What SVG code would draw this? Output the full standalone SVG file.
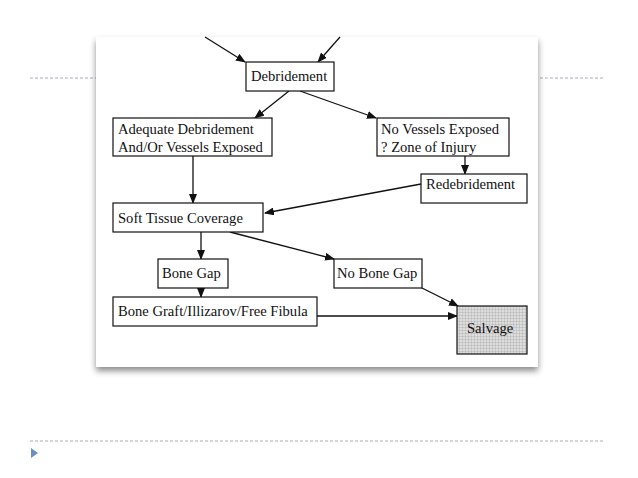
<svg xmlns="http://www.w3.org/2000/svg" width="638" height="478" viewBox="0 0 638 478">
<style>
.b{fill:#fff;stroke:#111;stroke-width:1.2}
.t{font-family:"Liberation Serif",serif;font-size:14.6px;fill:#111}
.c line{stroke:#111;stroke-width:1.3;marker-end:url(#a)}
.d{stroke:#aab;stroke-width:1;stroke-dasharray:3,2}
</style>
<defs>
<marker id="a" markerWidth="10" markerHeight="8" refX="9" refY="4" orient="auto" markerUnits="userSpaceOnUse"><path d="M0,0L10,4L0,8z" fill="#111"/></marker>
<pattern id="p" width="3" height="3" patternUnits="userSpaceOnUse"><rect width="3" height="3" fill="#ddd"/><path d="M0,0H3M0,0V3" stroke="#999" stroke-width="0.6"/></pattern>
<filter id="s" x="-5%" y="-5%" width="110%" height="115%"><feDropShadow dx="0" dy="4" stdDeviation="3" flood-color="#000" flood-opacity="0.45"/></filter>
</defs>
<rect width="638" height="478" fill="#fff"/>
<line class="d" x1="30" y1="78" x2="605" y2="78"/>
<line class="d" x1="30" y1="441" x2="605" y2="441"/>
<path d="M31,448L38,453L31,458z" fill="#6b8fc7"/>
<rect x="96" y="37" width="442" height="330" fill="#fff" filter="url(#s)"/>
<g class="c">
<line x1="205" y1="37" x2="245" y2="62"/>
<line x1="340" y1="37" x2="318" y2="62"/>
<line x1="289" y1="91" x2="255" y2="118"/>
<line x1="300" y1="91" x2="376" y2="118"/>
<line x1="193" y1="156" x2="193" y2="203"/>
<line x1="465" y1="156" x2="465" y2="174"/>
<line x1="421" y1="184" x2="265" y2="213"/>
<line x1="201" y1="232" x2="201" y2="259"/>
<line x1="230" y1="232" x2="334" y2="259"/>
<line x1="201" y1="288" x2="201" y2="297"/>
<line x1="422" y1="288" x2="458" y2="306"/>
<line x1="317" y1="316" x2="457" y2="316"/>
</g>
<g id="debridement"><rect class="b" x="246" y="62" width="88" height="29"/><text class="t" x="251" y="81">Debridement</text></g>
<g id="adequate"><rect class="b" x="113" y="118" width="159" height="38"/><text class="t" x="118" y="134">Adequate Debridement</text><text class="t" x="118" y="152">And/Or Vessels Exposed</text></g>
<g id="novessels"><rect class="b" x="377" y="118" width="132" height="38"/><text class="t" x="381" y="134">No Vessels Exposed</text><text class="t" x="381" y="152">? Zone of Injury</text></g>
<g id="redebridement"><rect class="b" x="421" y="174" width="106" height="29"/><text class="t" x="426" y="189">Redebridement</text></g>
<g id="soft"><rect class="b" x="113" y="203" width="150" height="29"/><text class="t" x="118" y="223">Soft Tissue Coverage</text></g>
<g id="bonegap"><rect class="b" x="158" y="259" width="70" height="29"/><text class="t" x="162" y="278">Bone Gap</text></g>
<g id="nobonegap"><rect class="b" x="334" y="259" width="88" height="29"/><text class="t" x="337" y="278">No Bone Gap</text></g>
<g id="bonegraft"><rect class="b" x="113" y="297" width="204" height="29"/><text class="t" x="118" y="316">Bone Graft/Illizarov/Free Fibula</text></g>
<g id="salvage"><rect x="457" y="306" width="70" height="48" fill="url(#p)" stroke="#111" stroke-width="1.2"/><text class="t" x="467" y="333">Salvage</text></g>
</svg>
